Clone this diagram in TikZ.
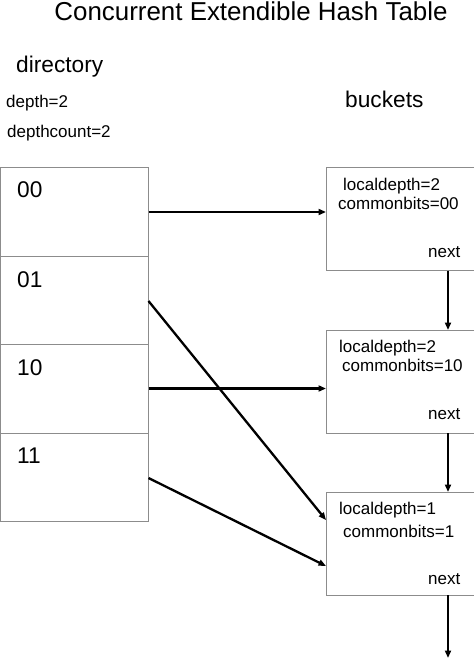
\documentclass[tikz,border=0pt]{standalone}
\usepackage{fontspec}
\setmainfont{Liberation Sans}
\usetikzlibrary{arrows.meta,calc}
\tikzset{
  cell/.style={draw=black!45, line width=0.9pt, minimum width=148pt, minimum height=88.5pt, inner sep=0pt, outer sep=0pt, anchor=north west},
  bucket/.style={minimum width=148pt, minimum height=103pt, inner sep=0pt, outer sep=0pt, anchor=north west},
  bucketedge/.style={draw=black!45, line width=0.9pt},
  lbl/.style={anchor=base west, inner sep=0pt, font=\fontsize{17}{20}\selectfont},
  big/.style={anchor=base west, inner sep=0pt, font=\fontsize{22.7}{26}\selectfont},
  ptr/.style={line width=2.3pt, -{Triangle[length=7.5pt,width=6pt]}}
}
\begin{document}
\begin{tikzpicture}[x=1pt,y=-1pt]
\useasboundingbox (0,0) rectangle (474,660);
% title and headings
\node[anchor=base, inner sep=0pt, font=\fontsize{25.9}{30}\selectfont] (title) at (251,21) {Concurrent Extendible Hash Table};
\node[big] (dirlbl) at (16,73) {directory};
\node[lbl] (depth) at (6,108) {depth=2};
\node[lbl] (dcount) at (7,138) {depthcount=2};
\node[big] (bklbl) at (345,108) {buckets};
% directory cells
\node[cell] (c00) at (0.5,167.5) {};
\node[cell] (c01) at (0.5,256) {};
\node[cell] (c10) at (0.5,344.5) {};
\node[cell] (c11) at (0.5,433) {};
\node[big] (t00) at (17,197) {00};
\node[big] (t01) at (17,287) {01};
\node[big] (t10) at (17,375) {10};
\node[big] (t11) at (17,463) {11};
% buckets (right side runs off the page)
\node[bucket] (b1) at (326,167.5) {};
\node[bucket] (b2) at (326,330) {};
\node[bucket] (b3) at (326,492) {};
\foreach \b in {b1,b2,b3}
  \draw[bucketedge] (\b.north east) -- (\b.north west) -- (\b.south west) -- (\b.south east);
\node[lbl] (b1a) at (343,190) {localdepth=2};
\node[lbl] (b1b) at (338,209) {commonbits=00};
\node[lbl] (b1n) at (428,257) {next};
\node[lbl] (b2a) at (339,352) {localdepth=2};
\node[lbl] (b2b) at (342,371) {commonbits=10};
\node[lbl] (b2n) at (428,419) {next};
\node[lbl] (b3a) at (339,514) {localdepth=1};
\node[lbl] (b3b) at (343,537) {commonbits=1};
\node[lbl] (b3n) at (428,584) {next};
% pointer targets
\coordinate (b3in1) at ($(b3.north west)+(0,28)$);
\coordinate (b3in2) at ($(b3.north west)+(0,74)$);
\coordinate (c01out) at ($(c01.north east)+(0,45)$);
\coordinate (c11out) at ($(c11.north east)+(0,45)$);
\coordinate (c00out) at ($(c00.north east)+(0,44.5)$);
\coordinate (c10out) at ($(c10.north east)+(0,44)$);
\coordinate (n1) at ($(b1.south west)+(122,0)$);
\coordinate (n2) at ($(b2.south west)+(122,0)$);
\coordinate (n3) at ($(b3.south west)+(122,0)$);
\coordinate (nil) at (448,658);
% connectors
\draw[ptr] (c00out) -- (c00out -| b1.west);
\draw[ptr] (c01out) -- (b3in1);
\draw[ptr] (c10out) -- (c10out -| b2.west);
\draw[ptr] (c11out) -- (b3in2);
\draw[ptr] (n1) -- (n1 |- b2.north);
\draw[ptr] (n2) -- (n2 |- b3.north);
\draw[ptr] (n3) -- (nil);
\end{tikzpicture}
\end{document}
